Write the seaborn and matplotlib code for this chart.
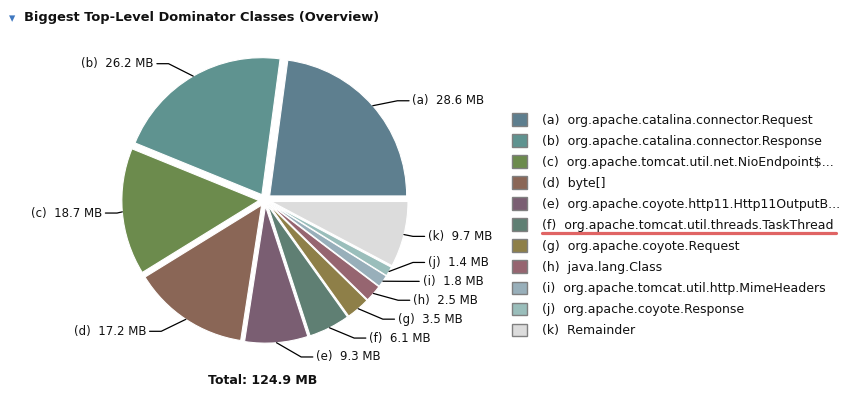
import numpy as np
import seaborn as sns
import matplotlib.pyplot as plt
from matplotlib.patches import Patch
from matplotlib.lines import Line2D

# slice data, in the order they are drawn (counter-clockwise from 3 o'clock)
keys = ['a', 'b', 'c', 'd', 'e', 'f', 'g', 'h', 'i', 'j', 'k']
sizes_mb = [28.6, 26.2, 18.7, 17.2, 9.3, 6.1, 3.5, 2.5, 1.8, 1.4, 9.7]
class_names = [
    'org.apache.catalina.connector.Request',
    'org.apache.catalina.connector.Response',
    'org.apache.tomcat.util.net.NioEndpoint$...',
    'byte[]',
    'org.apache.coyote.http11.Http11OutputB...',
    'org.apache.tomcat.util.threads.TaskThread',
    'org.apache.coyote.Request',
    'java.lang.Class',
    'org.apache.tomcat.util.http.MimeHeaders',
    'org.apache.coyote.Response',
    'Remainder',
]
slice_colors = ['#5e7f8f', '#5f9390', '#6c8b4d', '#8a6656', '#7a5e72', '#5f7f73',
                '#8e7f48', '#966570', '#98afba', '#9abebb', '#dcdcdc']
total_mb = 124.9
highlight = 'f'

sns.set_style('white')
plt.rcParams['font.family'] = ['DejaVu Sans']

W, H = 864, 396
fig = plt.figure(figsize=(W / 100, H / 100), dpi=100)

# pie axes: centre at (265, 200) px from top-left, 1 unit = 137 px
cx, cy, R = 265, 200, 137
xl, yl = 1.9, 1.4
ax = fig.add_axes([(cx - xl * R) / W, (H - cy - yl * R) / H, 2 * xl * R / W, 2 * yl * R / H])

expl = 0.045
pal = sns.color_palette(slice_colors)
wedges, _ = ax.pie(sizes_mb, colors=pal, startangle=0, counterclock=True,
                   explode=[expl] * len(sizes_mb),
                   wedgeprops=dict(edgecolor='white', linewidth=0.8))
ax.set_xlim(-xl, xl)
ax.set_ylim(-yl, yl)
ax.set_aspect('auto')
ax.axis('off')

# label positions: natural height on a ring, spread apart on the right side
fracs = np.array(sizes_mb) / sum(sizes_mb)
mids = np.deg2rad(360 * (np.cumsum(fracs) - fracs / 2))
on_right = np.cos(mids) > 0
lab_y = np.where(on_right, 1.1, 1.15) * np.sin(mids)
right = np.where(on_right)[0]
order = right[np.argsort(-lab_y[right])]
gap = 0.138
for _ in range(300):
    for i0, i1 in zip(order[:-1], order[1:]):
        d = lab_y[i0] - lab_y[i1]
        if d < gap:
            push = (gap - d) / 2
            lab_y[i0] += push
            lab_y[i1] -= push

r_edge = 1.0 + expl
for k, v, th, ty in zip(keys, sizes_mb, mids, lab_y):
    side = 1 if np.cos(th) > 0 else -1
    px, py = r_edge * np.cos(th), r_edge * np.sin(th)
    ex = side * max(abs(px), min(abs(px) + 0.18, 1.08))
    ax.plot([px, ex, ex + side * 0.085], [py, ty, ty], color='black', lw=0.9)
    ax.text(ex + side * 0.11, ty, f'({k})  {v} MB', ha='left' if side > 0 else 'right',
            va='center', fontsize=8.5, color='#111111')

ax.text(-0.02, -1.314, f'Total: {total_mb} MB', ha='center', va='center',
        fontsize=9, fontweight='bold', color='#111111')

# title with the small disclosure triangle
fig.text(9 / W, 1 - 19 / H, '\u25be', color='#3f78c0', fontsize=9, ha='left', va='center')
fig.text(24 / W, 1 - 18 / H, 'Biggest Top-Level Dominator Classes (Overview)',
         fontsize=9.4, fontweight='bold', ha='left', va='center', color='#111111')

# legend
fs = 9
handles = [Patch(facecolor=c, edgecolor='#808080', linewidth=1) for c in pal]
leg_labels = [f'({k})  {n}' for k, n in zip(keys, class_names)]
leg = fig.legend(handles, leg_labels, loc='upper left', bbox_to_anchor=(512 / W, 1 - 113 / H),
                 frameon=False, fontsize=fs, handlelength=1.2, handleheight=1.2,
                 handletextpad=1.2, labelspacing=0.595, borderaxespad=0, borderpad=0)
for t in leg.get_texts():
    t.set_color('#111111')

# red underline under the highlighted legend entry
fig.canvas.draw()
bb = leg.get_texts()[keys.index(highlight)].get_window_extent()
fig.add_artist(Line2D([bb.x0 / W, (bb.x1 + 2) / W], [(bb.y0 - 1.5) / H] * 2,
                      transform=fig.transFigure, color='#e06464', lw=2.3))

fig.savefig('out.png', dpi=100)
